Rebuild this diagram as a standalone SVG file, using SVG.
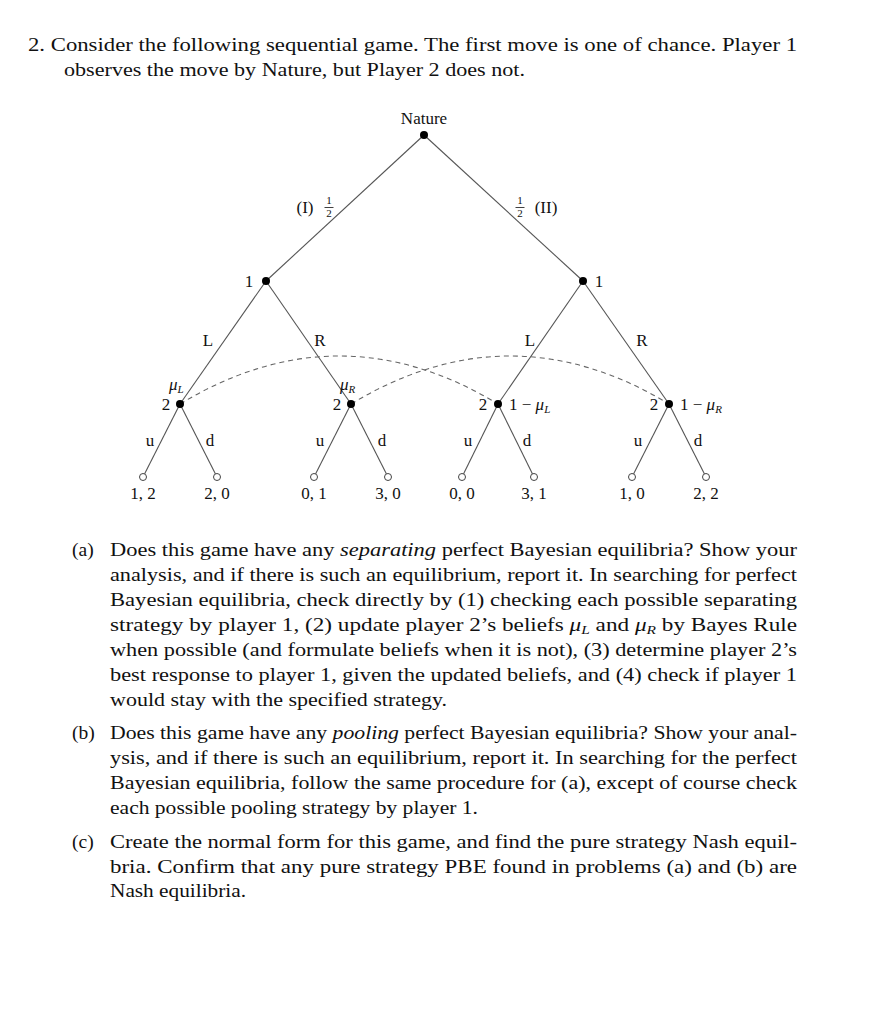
<svg xmlns="http://www.w3.org/2000/svg" width="890" height="1024" viewBox="0 0 890 1024">
<style>
  .t { font-family: "Liberation Serif", "DejaVu Serif", serif; font-size: 19.5px; fill: #111; }
  .s { font-family: "Liberation Serif", "DejaVu Serif", serif; font-size: 17px; fill: #111; }
  .f { font-family: "Liberation Serif", "DejaVu Serif", serif; font-size: 11px; fill: #111; }
  .e { stroke: #555; stroke-width: 1.1; fill: none; }
  .dash { stroke: #666; stroke-width: 1.1; fill: none; stroke-dasharray: 5 4; }
  .dot { fill: #000; }
  .leaf { fill: #fff; stroke: #444; stroke-width: 1; }
  .i { font-style: italic; }
</style>
<rect width="890" height="1024" fill="#fff"/>

<!-- heading -->
<text class="t" x="28" y="51" textLength="769" lengthAdjust="spacingAndGlyphs">2. Consider the following sequential game. The first move is one of chance. Player 1</text>
<text class="t" x="64" y="76" textLength="461" lengthAdjust="spacingAndGlyphs">observes the move by Nature, but Player 2 does not.</text>

<!-- connectors -->
<g id="connectors">
  <line class="e" x1="424" y1="135" x2="266" y2="281"/>
  <line class="e" x1="424" y1="135" x2="583" y2="281"/>
  <line class="e" x1="266" y1="281" x2="180" y2="404"/>
  <line class="e" x1="266" y1="281" x2="351" y2="404"/>
  <line class="e" x1="583" y1="281" x2="498" y2="404"/>
  <line class="e" x1="583" y1="281" x2="669" y2="404"/>
  <line class="e" x1="180" y1="404" x2="143" y2="477"/>
  <line class="e" x1="180" y1="404" x2="217" y2="477"/>
  <line class="e" x1="351" y1="404" x2="314" y2="477"/>
  <line class="e" x1="351" y1="404" x2="388" y2="477"/>
  <line class="e" x1="498" y1="404" x2="462" y2="477"/>
  <line class="e" x1="498" y1="404" x2="534" y2="477"/>
  <line class="e" x1="669" y1="404" x2="632" y2="477"/>
  <line class="e" x1="669" y1="404" x2="706" y2="477"/>
  <path class="dash" d="M180,404 Q339,308 498,404"/>
  <path class="dash" d="M351,404 Q510,308 669,404"/>
  <!-- edge labels -->
  <text class="s" x="305" y="213" text-anchor="middle">(I)</text>
  <text class="f" x="329" y="204" text-anchor="middle">1</text>
  <line x1="324.5" y1="207.5" x2="333.5" y2="207.5" stroke="#111" stroke-width="0.8"/>
  <text class="f" x="329" y="217" text-anchor="middle">2</text>
  <text class="f" x="520" y="204" text-anchor="middle">1</text>
  <line x1="515.5" y1="207.5" x2="524.5" y2="207.5" stroke="#111" stroke-width="0.8"/>
  <text class="f" x="520" y="217" text-anchor="middle">2</text>
  <text class="s" x="546" y="213" text-anchor="middle">(II)</text>
  <text class="s" x="208" y="346" text-anchor="middle">L</text>
  <text class="s" x="320" y="346" text-anchor="middle">R</text>
  <text class="s" x="530" y="346" text-anchor="middle">L</text>
  <text class="s" x="642" y="346" text-anchor="middle">R</text>
  <text class="s" x="150" y="446" text-anchor="middle">u</text>
  <text class="s" x="210" y="446" text-anchor="middle">d</text>
  <text class="s" x="320" y="446" text-anchor="middle">u</text>
  <text class="s" x="382" y="446" text-anchor="middle">d</text>
  <text class="s" x="468" y="446" text-anchor="middle">u</text>
  <text class="s" x="527" y="446" text-anchor="middle">d</text>
  <text class="s" x="638" y="446" text-anchor="middle">u</text>
  <text class="s" x="698" y="446" text-anchor="middle">d</text>
</g>

<g id="nature">
  <circle class="dot" cx="424" cy="135" r="4"/>
  <text class="s" x="424" y="124" text-anchor="middle">Nature</text>
</g>
<g id="p1-left">
  <circle class="dot" cx="266" cy="281" r="4"/>
  <text class="s" x="249" y="287" text-anchor="middle">1</text>
</g>
<g id="p1-right">
  <circle class="dot" cx="583" cy="281" r="4"/>
  <text class="s" x="599" y="287" text-anchor="middle">1</text>
</g>
<g id="p2-LL">
  <circle class="dot" cx="180" cy="404" r="4"/>
  <text class="s" x="166" y="410" text-anchor="middle">2</text>
  <text class="s i" x="169" y="390">μ<tspan font-size="11" dy="3">L</tspan></text>
</g>
<g id="p2-LR">
  <circle class="dot" cx="351" cy="404" r="4"/>
  <text class="s" x="337" y="410" text-anchor="middle">2</text>
  <text class="s i" x="340" y="390">μ<tspan font-size="11" dy="3">R</tspan></text>
</g>
<g id="p2-RL">
  <circle class="dot" cx="498" cy="404" r="4"/>
  <text class="s" x="483" y="410" text-anchor="middle">2</text>
  <text class="s" x="509" y="410">1 − <tspan class="i">μ</tspan><tspan class="i" font-size="11" dy="3">L</tspan></text>
</g>
<g id="p2-RR">
  <circle class="dot" cx="669" cy="404" r="4"/>
  <text class="s" x="654" y="410" text-anchor="middle">2</text>
  <text class="s" x="680" y="410">1 − <tspan class="i">μ</tspan><tspan class="i" font-size="11" dy="3">R</tspan></text>
</g>

<g id="leaf1"><circle class="leaf" cx="143" cy="477" r="3.5"/><text class="s" x="143" y="499" text-anchor="middle">1, 2</text></g>
<g id="leaf2"><circle class="leaf" cx="217" cy="477" r="3.5"/><text class="s" x="217" y="499" text-anchor="middle">2, 0</text></g>
<g id="leaf3"><circle class="leaf" cx="314" cy="477" r="3.5"/><text class="s" x="314" y="499" text-anchor="middle">0, 1</text></g>
<g id="leaf4"><circle class="leaf" cx="388" cy="477" r="3.5"/><text class="s" x="388" y="499" text-anchor="middle">3, 0</text></g>
<g id="leaf5"><circle class="leaf" cx="462" cy="477" r="3.5"/><text class="s" x="462" y="499" text-anchor="middle">0, 0</text></g>
<g id="leaf6"><circle class="leaf" cx="534" cy="477" r="3.5"/><text class="s" x="534" y="499" text-anchor="middle">3, 1</text></g>
<g id="leaf7"><circle class="leaf" cx="632" cy="477" r="3.5"/><text class="s" x="632" y="499" text-anchor="middle">1, 0</text></g>
<g id="leaf8"><circle class="leaf" cx="706" cy="477" r="3.5"/><text class="s" x="706" y="499" text-anchor="middle">2, 2</text></g>

<!-- (a) -->
<text class="t" x="72" y="556">(a)</text>
<text class="t" x="110" y="556" textLength="687" lengthAdjust="spacingAndGlyphs">Does this game have any <tspan class="i">separating</tspan> perfect Bayesian equilibria? Show your</text>
<text class="t" x="110" y="581" textLength="687" lengthAdjust="spacingAndGlyphs">analysis, and if there is such an equilibrium, report it. In searching for perfect</text>
<text class="t" x="110" y="606" textLength="687" lengthAdjust="spacingAndGlyphs">Bayesian equilibria, check directly by (1) checking each possible separating</text>
<text class="t" x="110" y="631" textLength="687" lengthAdjust="spacingAndGlyphs">strategy by player 1, (2) update player 2’s beliefs <tspan class="i">μ</tspan><tspan class="i" font-size="13" dy="3">L</tspan><tspan dy="-3"> and </tspan><tspan class="i">μ</tspan><tspan class="i" font-size="13" dy="3">R</tspan><tspan dy="-3"> by Bayes Rule</tspan></text>
<text class="t" x="110" y="656" textLength="687" lengthAdjust="spacingAndGlyphs">when possible (and formulate beliefs when it is not), (3) determine player 2’s</text>
<text class="t" x="110" y="681" textLength="687" lengthAdjust="spacingAndGlyphs">best response to player 1, given the updated beliefs, and (4) check if player 1</text>
<text class="t" x="110" y="706" textLength="337" lengthAdjust="spacingAndGlyphs">would stay with the specified strategy.</text>

<!-- (b) -->
<text class="t" x="72" y="739">(b)</text>
<text class="t" x="110" y="739" textLength="687" lengthAdjust="spacingAndGlyphs">Does this game have any <tspan class="i">pooling</tspan> perfect Bayesian equilibria? Show your anal-</text>
<text class="t" x="110" y="764" textLength="687" lengthAdjust="spacingAndGlyphs">ysis, and if there is such an equilibrium, report it. In searching for the perfect</text>
<text class="t" x="110" y="789" textLength="687" lengthAdjust="spacingAndGlyphs">Bayesian equilibria, follow the same procedure for (a), except of course check</text>
<text class="t" x="110" y="814" textLength="368" lengthAdjust="spacingAndGlyphs">each possible pooling strategy by player 1.</text>

<!-- (c) -->
<text class="t" x="72" y="848">(c)</text>
<text class="t" x="110" y="848" textLength="687" lengthAdjust="spacingAndGlyphs">Create the normal form for this game, and find the pure strategy Nash equil-</text>
<text class="t" x="110" y="873" textLength="687" lengthAdjust="spacingAndGlyphs">bria. Confirm that any pure strategy PBE found in problems (a) and (b) are</text>
<text class="t" x="110" y="897" textLength="136" lengthAdjust="spacingAndGlyphs">Nash equilibria.</text>
</svg>
